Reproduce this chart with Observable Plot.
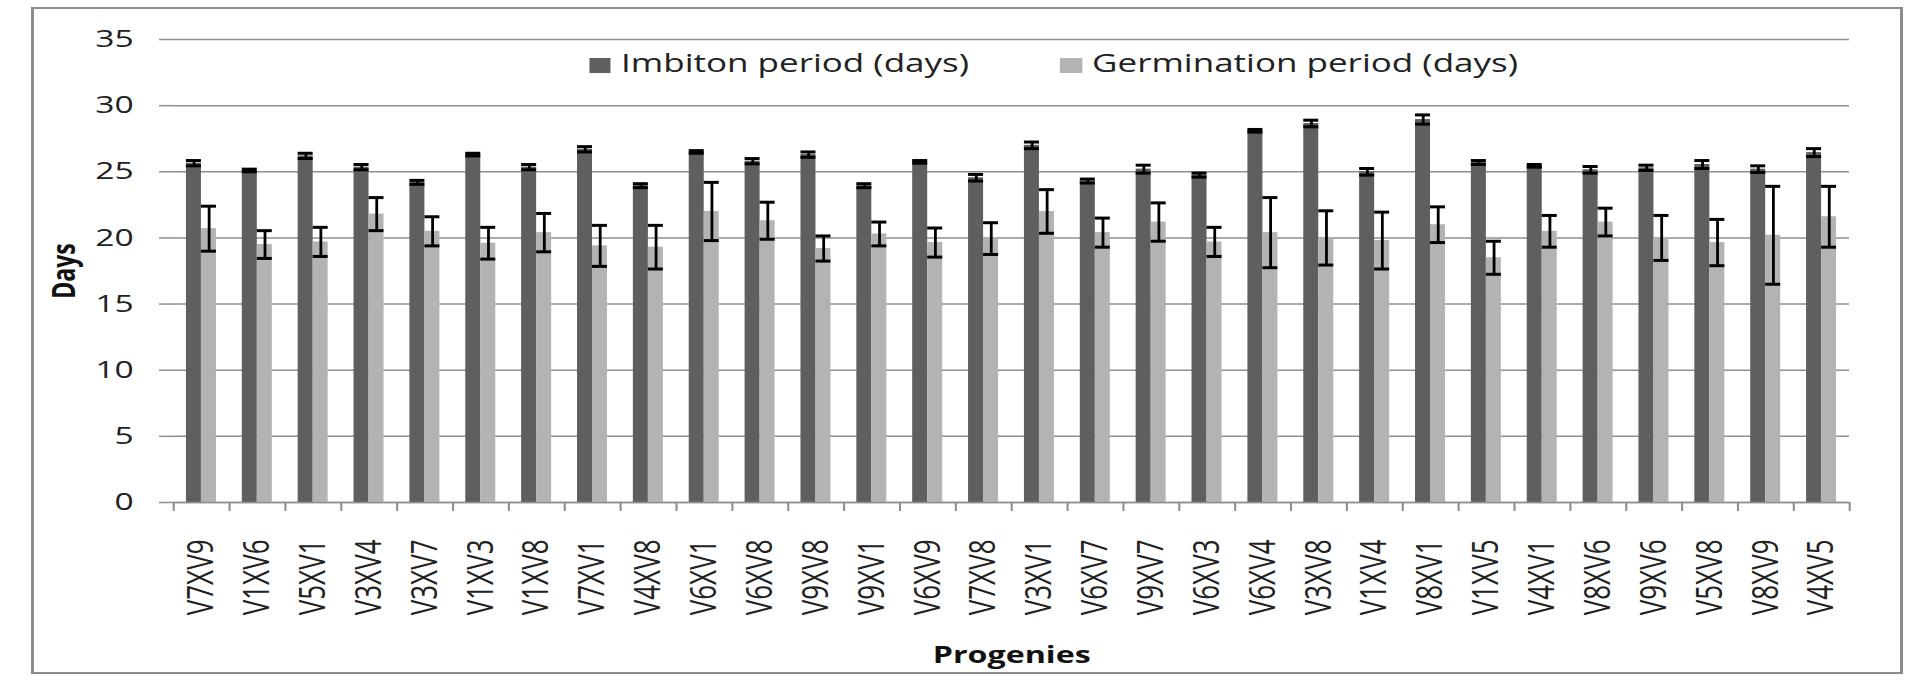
<!DOCTYPE html>
<html>
<head>
<meta charset="utf-8">
<script src="https://cdn.jsdelivr.net/npm/d3@7"></script>
<script src="https://cdn.jsdelivr.net/npm/@observablehq/plot@0.6"></script>
<style>
  html, body { margin: 0; padding: 0; background: #fff; }
  #page { position: relative; width: 1914px; height: 681px; overflow: hidden; background: #fff; }
  #stretch { position: absolute; left: 0; top: 0; width: 1367px; height: 681px; transform-origin: 0 0; }
  #stretch svg { display: block; }
  #frame { position: absolute; left: 31px; top: 7px; width: 1872px; height: 667px; box-sizing: border-box;
           border: 3px solid #8c8c8c; border-top-width: 2.5px; border-bottom-width: 2.5px; pointer-events: none; }
  .lg-item { position: absolute; font-family: 'Open Sans', sans-serif; font-size: 25px; line-height: 25px; color: #222; white-space: nowrap; }
  .lg-sw { position: absolute; width: 15.7px; height: 15px; }
</style>
</head>
<body>
<div id="page">
  <div id="stretch"></div>
  <div id="frame"></div>
</div>
<script>
// ---- data ----
const categories = ["V7XV9","V1XV6","V5XV1","V3XV4","V3XV7","V1XV3","V1XV8","V7XV1","V4XV8","V6XV1",
                    "V6XV8","V9XV8","V9XV1","V6XV9","V7XV8","V3XV1","V6XV7","V9XV7","V6XV3","V6XV4",
                    "V3XV8","V1XV4","V8XV1","V1XV5","V4XV1","V8XV6","V9XV6","V5XV8","V8XV9","V4XV5"];
const series = ["Imbiton period (days)", "Germination period (days)"];
const imbiton = [25.65, 25.1, 26.2, 25.35, 24.2, 26.3, 25.35, 26.7, 23.95, 26.5,
                 25.8, 26.3, 23.95, 25.75, 24.55, 27.0, 24.3, 25.2, 24.75, 28.1,
                 28.65, 25.0, 28.95, 25.7, 25.45, 25.15, 25.3, 25.55, 25.2, 26.45];
const imbitonErr = [0.2, 0.1, 0.2, 0.2, 0.15, 0.1, 0.2, 0.2, 0.15, 0.1,
                    0.2, 0.2, 0.15, 0.1, 0.25, 0.25, 0.15, 0.3, 0.15, 0.1,
                    0.25, 0.25, 0.35, 0.15, 0.1, 0.25, 0.2, 0.3, 0.25, 0.3];
const germination = [20.7, 19.5, 19.7, 21.8, 20.5, 19.6, 20.4, 19.4, 19.3, 22.0,
                     21.3, 19.2, 20.3, 19.65, 19.95, 22.0, 20.4, 21.2, 19.7, 20.4,
                     20.0, 19.8, 21.0, 18.5, 20.5, 21.2, 20.0, 19.65, 20.2, 21.6];
const germinationErr = [1.7, 1.05, 1.1, 1.25, 1.1, 1.2, 1.45, 1.55, 1.65, 2.2,
                        1.4, 0.95, 0.9, 1.1, 1.2, 1.65, 1.1, 1.45, 1.1, 2.65,
                        2.05, 2.15, 1.35, 1.25, 1.2, 1.05, 1.7, 1.75, 3.7, 2.3];
const yTicks = [0, 5, 10, 15, 20, 25, 30, 35];
const colors = ["#5f5f5f", "#b3b3b3"];
const xTitle = "Progenies";
const yTitle = "Days";

// ---- tables ----
const darkRows = categories.map((c, i) => ({category: c, series: series[0], value: imbiton[i], err: imbitonErr[i]}));
const lightRows = categories.map((c, i) => ({category: c, series: series[1], value: germination[i], err: germinationErr[i]}));

// ---- layout (text in the reference is horizontally stretched: draw narrower, then stretch) ----
const PAGE_W = 1914, W = 1367, H = 681;
const S = PAGE_W / W;
const mL = 173 / S, mR = (PAGE_W - 1849) / S, mT = 39, mB = H - 502;
const step = (W - mL - mR) / categories.length;
const bw = 15 / S;                 // bar width
const half = step / 2;
const gridColor = "#8f8f8f";
const textColor = "#222";

const darkInset = {insetLeft: half - bw, insetRight: half};
const lightInset = {insetLeft: half, insetRight: half - bw};

function errorMarks(rows, inset, dx) {
  return [
    Plot.ruleX(rows, {x: "category", y1: d => d.value - d.err, y2: d => d.value + d.err, dx, stroke: "#000", strokeWidth: 2}),
    Plot.tickY(rows, {x: "category", y: d => d.value - d.err, ...inset, stroke: "#000", strokeWidth: 3}),
    Plot.tickY(rows, {x: "category", y: d => d.value + d.err, ...inset, stroke: "#000", strokeWidth: 3})
  ];
}

const chart = Plot.plot({
  width: W, height: H,
  marginLeft: mL, marginRight: mR, marginTop: mT, marginBottom: mB,
  style: {fontFamily: "'Open Sans', sans-serif", fontSize: "24px", color: textColor, background: "transparent", overflow: "visible"},
  x: {domain: categories, padding: 0, round: false, label: null},
  y: {domain: [0, 35], label: null},
  color: {domain: series, range: colors},
  marks: [
    Plot.gridY(yTicks, {stroke: gridColor, strokeOpacity: 1, strokeWidth: 1.5}),
    Plot.barY(darkRows, {x: "category", y: "value", fill: "series", ...darkInset}),
    Plot.barY(lightRows, {x: "category", y: "value", fill: "series", ...lightInset}),
    Plot.ruleY([0], {stroke: gridColor, strokeWidth: 1.5}),
    ...errorMarks(darkRows, darkInset, -bw / 2),
    ...errorMarks(lightRows, lightInset, bw / 2),
    Plot.axisY({ticks: yTicks, tickSize: 10, tickPadding: 18.6, stroke: gridColor, strokeWidth: 1.5, fill: textColor,
                fontSize: 24, label: yTitle, labelArrow: "none", labelAnchor: "center", labelOffset: 87, line: true}),
    Plot.axisX({tickSize: 0, tickPadding: 37, tickRotate: -90, fontSize: 26, fill: textColor,
                label: xTitle, labelArrow: "none", labelAnchor: "center", labelOffset: 160}),
    Plot.axisX({tickSize: 9, tickFormat: () => "", label: null, dx: -half, stroke: gridColor, strokeWidth: 1.5}),
    Plot.axisX({ticks: [categories[categories.length - 1]], tickSize: 9, tickFormat: () => "", label: null,
                dx: half, stroke: gridColor, strokeWidth: 1.5})
  ]
});

// bold axis titles
d3.select(chart).selectAll('g[aria-label="y-axis label"] text, g[aria-label="x-axis label"] text')
  .attr("font-weight", "bold").attr("font-size", 23).attr("fill", "#111");

const stretch = document.getElementById("stretch");
stretch.style.transform = `scaleX(${S})`;
stretch.appendChild(chart);

// legend (inside the plot area, top)
const legendLeft = [589 / S, 1060 / S];
series.forEach((s, i) => {
  const sw = document.createElement("div");
  sw.className = "lg-sw";
  sw.style.left = legendLeft[i] + "px";
  sw.style.top = "58px";
  sw.style.background = colors[i];
  stretch.appendChild(sw);
  const t = document.createElement("div");
  t.className = "lg-item";
  t.style.left = (legendLeft[i] + 22.9) + "px";
  t.style.top = "50px";
  t.textContent = s;
  stretch.appendChild(t);
});
</script>
</body>
</html>
